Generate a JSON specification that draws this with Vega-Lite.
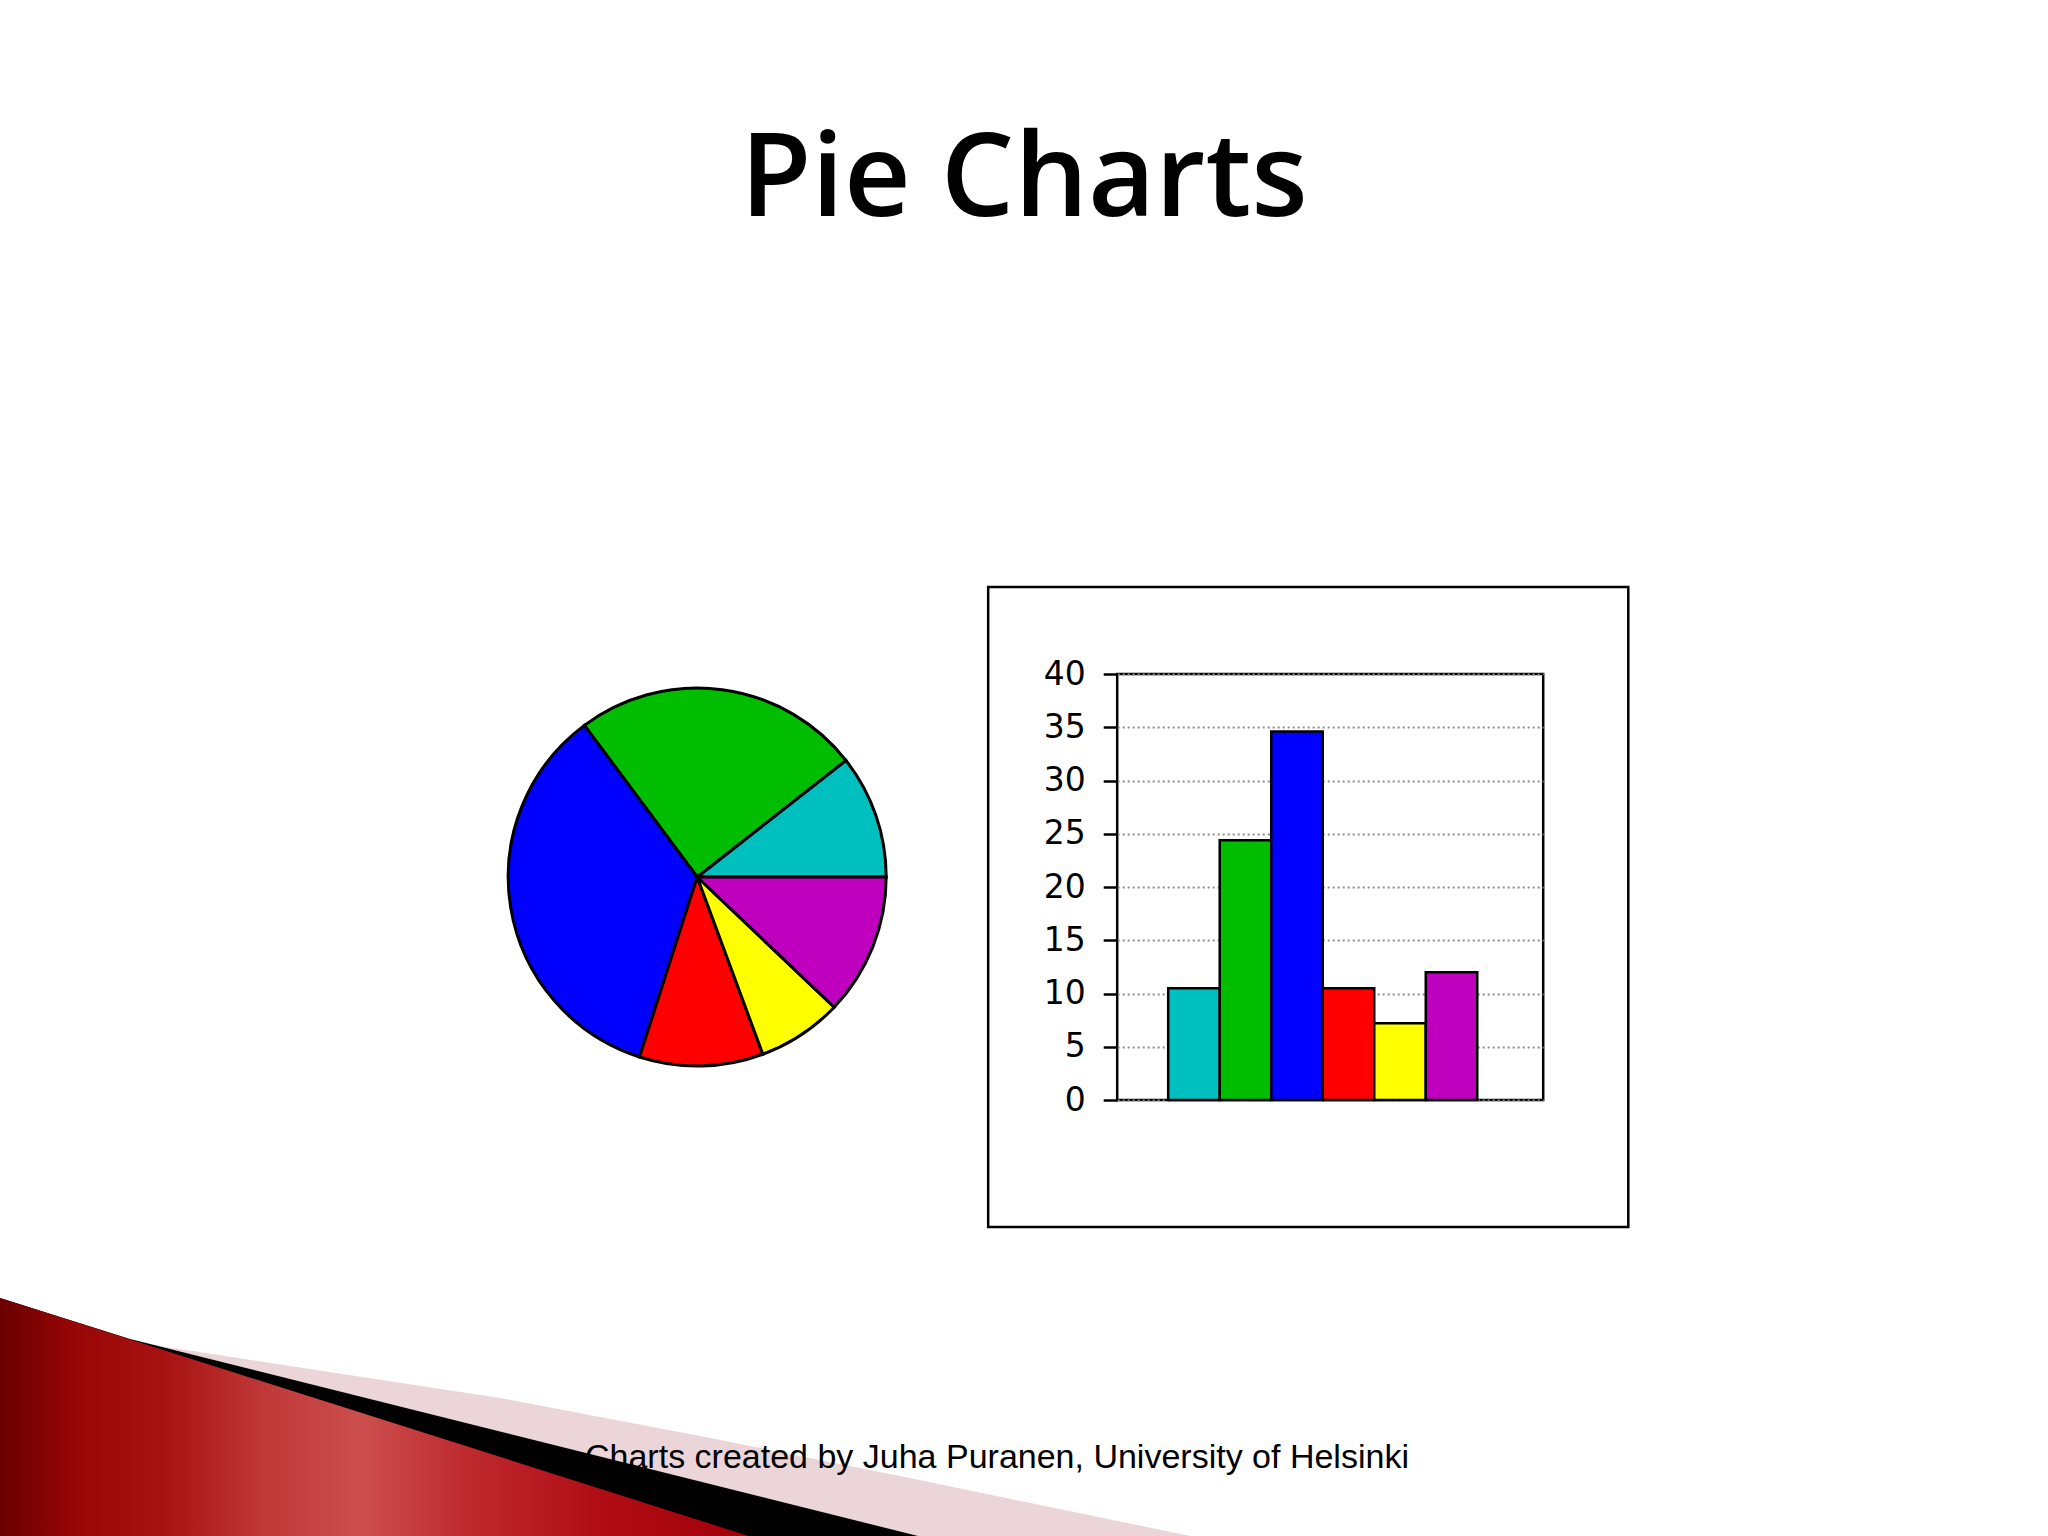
{
  "$schema": "https://vega.github.io/schema/vega-lite/v6.json",
  "background": "white",
  "padding": {"top": 123, "left": 0, "right": 0, "bottom": 0},
  "title": {"text": "Pie Charts", "font": "Open Sans", "fontSize": 116, "fontWeight": 600, "color": "#000000", "anchor": "middle", "baseline": "alphabetic", "offset": 252},
  "config": {"view": {"stroke": null}},
  "center": true,
  "spacing": 48,
  "datasets": {
    "cats": [
      {"name": "A", "pos": 1, "value": 10.5},
      {"name": "B", "pos": 2, "value": 24.4},
      {"name": "C", "pos": 3, "value": 34.6},
      {"name": "D", "pos": 4, "value": 10.5},
      {"name": "E", "pos": 5, "value": 7.2},
      {"name": "F", "pos": 6, "value": 12.0}
    ],
    "pink": [
      {"x": 0, "y": 240}, {"x": 130, "y": 199}, {"x": 160, "y": 192}, {"x": 500, "y": 140},
      {"x": 700, "y": 102}, {"x": 900, "y": 62}, {"x": 1200, "y": 0}
    ],
    "black": [
      {"x": 0, "y": 240}, {"x": 130, "y": 199}, {"x": 926, "y": 0}
    ],
    "red": [
      {"x": 0, "y": 240}, {"x": 755, "y": 0}
    ]
  },
  "vconcat": [
    {
      "spacing": 8,
      "hconcat": [
        {
          "width": 560,
          "height": 406,
          "data": {"name": "cats"},
          "mark": {"type": "arc", "radius": 189, "stroke": "black", "strokeWidth": 3},
          "encoding": {
            "theta": {"field": "value", "type": "quantitative", "stack": true, "scale": {"range": [1.5708, 7.854]}},
            "color": {"field": "name", "type": "nominal", "legend": null,
              "scale": {"domain": ["A", "B", "C", "D", "E", "F"], "range": ["#00BFBF", "#00BD00", "#0000FF", "#FF0000", "#FFFF00", "#BF00BF"]}},
            "order": {"field": "pos", "sort": "descending"}
          }
        },
        {
          "width": 426,
          "height": 426,
          "view": {"stroke": "black", "strokeWidth": 2.5},
          "layer": [
            {
              "data": {"values": [{}]},
              "mark": {"type": "rect", "filled": false, "stroke": "black", "strokeWidth": 2.5, "clip": false},
              "encoding": {
                "x": {"datum": -2.995, "type": "quantitative", "scale": {"domain": [-0.49, 7.78], "nice": false, "zero": false, "padding": 0}, "axis": null},
                "x2": {"datum": 9.432},
                "y": {"datum": -11.92, "type": "quantitative", "scale": {"domain": [0, 40], "nice": false},
                  "axis": {"values": [0, 5, 10, 15, 20, 25, 30, 35, 40], "title": null, "domain": false, "tickSize": 14, "tickWidth": 2.5, "tickColor": "black", "labelFont": "DejaVu Sans", "labelFontSize": 33, "labelColor": "black", "labelPadding": 18, "labelFlush": false, "labelOverlap": false, "grid": true, "gridColor": "#8c8c8c", "gridDash": [2, 3], "gridWidth": 1.8}},
                "y2": {"datum": 48.17}
              }
            },
            {
              "data": {"name": "cats"},
              "mark": {"type": "bar", "width": 51.5, "stroke": "black", "strokeWidth": 2.5},
              "encoding": {
                "x": {"field": "pos", "type": "quantitative", "scale": {"domain": [-0.49, 7.78], "nice": false, "zero": false, "padding": 0}, "axis": null},
                "y": {"field": "value", "type": "quantitative", "scale": {"domain": [0, 40], "nice": false},
                  "axis": {"values": [0, 5, 10, 15, 20, 25, 30, 35, 40], "title": null, "domain": false, "tickSize": 14, "tickWidth": 2.5, "tickColor": "black", "labelFont": "DejaVu Sans", "labelFontSize": 33, "labelColor": "black", "labelPadding": 18, "labelFlush": false, "labelOverlap": false, "grid": true, "gridColor": "#8c8c8c", "gridDash": [2, 3], "gridWidth": 1.8}},
                "color": {"field": "name", "type": "nominal", "legend": null,
                  "scale": {"domain": ["A", "B", "C", "D", "E", "F"], "range": ["#00BFBF", "#00BD00", "#0000FF", "#FF0000", "#FFFF00", "#BF00BF"]}}
              }
            }
          ]
        }
      ]
    },
    {
      "width": 2048,
      "height": 260,
      "layer": [
        {
          "data": {"name": "pink"},
          "mark": {"type": "area", "color": "#EBD5D9"},
          "encoding": {
            "x": {"field": "x", "type": "quantitative", "scale": {"domain": [0, 2048], "nice": false}, "axis": null},
            "y": {"field": "y", "type": "quantitative", "scale": {"domain": [0, 260], "nice": false}, "axis": null},
            "y2": {"datum": 0}
          }
        },
        {
          "data": {"name": "black"},
          "mark": {"type": "area", "color": "#000000"},
          "encoding": {
            "x": {"field": "x", "type": "quantitative", "scale": {"domain": [0, 2048], "nice": false}, "axis": null},
            "y": {"field": "y", "type": "quantitative", "scale": {"domain": [0, 260], "nice": false}, "axis": null},
            "y2": {"datum": 0}
          }
        },
        {
          "data": {"name": "red"},
          "mark": {"type": "area", "color": {"gradient": "linear", "x1": 0, "y1": 0, "x2": 1, "y2": 0,
            "stops": [
              {"offset": 0, "color": "#6A0000"},
              {"offset": 0.1, "color": "#980606"},
              {"offset": 0.22, "color": "#A81212"},
              {"offset": 0.35, "color": "#C03838"},
              {"offset": 0.48, "color": "#CC4E4E"},
              {"offset": 0.62, "color": "#BE2A2E"},
              {"offset": 0.8, "color": "#B00C14"},
              {"offset": 1, "color": "#A00008"}
            ]}},
          "encoding": {
            "x": {"field": "x", "type": "quantitative", "scale": {"domain": [0, 2048], "nice": false}, "axis": null},
            "y": {"field": "y", "type": "quantitative", "scale": {"domain": [0, 260], "nice": false}, "axis": null},
            "y2": {"datum": 0}
          }
        },
        {
          "data": {"values": [{"t": "Charts created by Juha Puranen, University of Helsinki"}]},
          "mark": {"type": "text", "align": "left", "baseline": "alphabetic", "font": "Liberation Sans", "fontSize": 34, "color": "#000000"},
          "encoding": {
            "text": {"field": "t"},
            "x": {"datum": 585, "type": "quantitative", "scale": {"domain": [0, 2048], "nice": false}, "axis": null},
            "y": {"datum": 70, "type": "quantitative", "scale": {"domain": [0, 260], "nice": false}, "axis": null}
          }
        }
      ]
    }
  ]
}
